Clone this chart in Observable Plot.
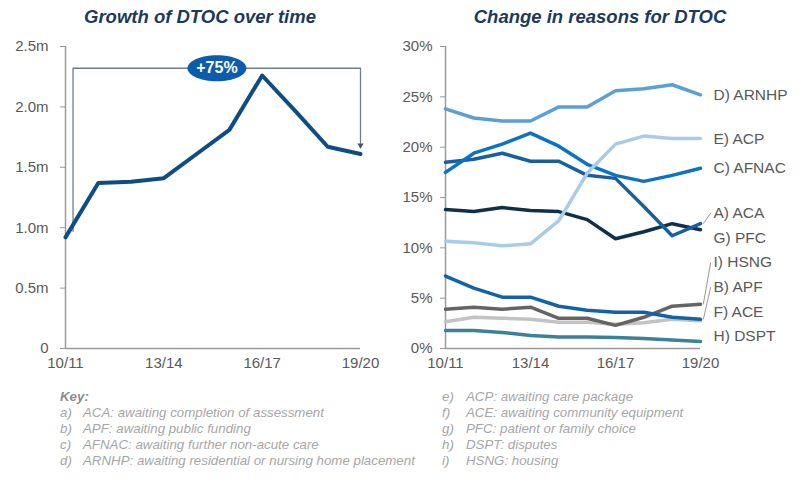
<!DOCTYPE html>
<html><head><meta charset="utf-8">
<script src="https://cdn.jsdelivr.net/npm/d3@7"></script>
<script src="https://cdn.jsdelivr.net/npm/@observablehq/plot@0.6"></script>
<style>
body{margin:0;background:#fff;font-family:"Liberation Sans",Arial,sans-serif;}
#wrap{position:relative;width:800px;height:482px;overflow:hidden;background:#fff;}
.title{position:absolute;top:6px;width:400px;text-align:center;font-weight:bold;font-style:italic;font-size:18.5px;color:#1b3a5c;white-space:nowrap;}
#left,#right{position:absolute;top:0;}
#left{left:0}#right{left:400px}
.key{position:absolute;top:389px;font-style:italic;font-size:13.3px;color:#a6a6a6;line-height:16px;white-space:nowrap;}
.key .l{display:inline-block;}
.key .h{font-weight:bold;color:#8c8c8c;}
</style></head>
<body><div id="wrap">
<div id="left"></div><div id="right"></div>
<div class="title" style="left:0">Growth of DTOC over time</div>
<div class="title" style="left:400px">Change in reasons for DTOC</div>
<div class="key" id="keyL" style="left:60px"></div>
<div class="key" id="keyR" style="left:442px"></div>
</div>
<script>
// ---- data ----
const years = ["10/11","11/12","12/13","13/14","14/15","15/16","16/17","17/18","18/19","19/20"];
const yearTicks = ["10/11","13/14","16/17","19/20"];
const totalDTOC = [0.92, 1.37, 1.38, 1.41, 1.61, 1.81, 2.26, 1.97, 1.67, 1.61]; // millions
const leftTicks = [0, 0.5, 1.0, 1.5, 2.0, 2.5];
const rightTicks = [0, 5, 10, 15, 20, 25, 30];

const ACA   = [18.5, 18.8, 19.4, 18.6, 18.6, 17.2, 16.9, 14.1, 11.2, 12.4];
const APF   = [7.2, 6.0, 5.1, 5.1, 4.2, 3.8, 3.6, 3.6, 3.1, 2.9];
const AFNAC = [17.5, 19.4, 20.3, 21.4, 20.1, 18.3, 17.2, 16.6, 17.2, 17.9];
const ARNHP = [23.8, 22.9, 22.6, 22.6, 24.0, 24.0, 25.6, 25.8, 26.2, 25.2];
const ACP   = [10.65, 10.5, 10.2, 10.4, 12.7, 17.4, 20.3, 21.1, 20.85, 20.85];
const ACE   = [2.65, 3.1, 3.0, 2.9, 2.6, 2.6, 2.4, 2.55, 2.9, 2.75];
const PFC   = [13.8, 13.6, 14.0, 13.7, 13.6, 12.8, 10.9, 11.6, 12.4, 11.8];
const DSPT  = [1.8, 1.8, 1.6, 1.3, 1.15, 1.15, 1.1, 1.0, 0.85, 0.7];
const HSNG  = [3.9, 4.1, 3.9, 4.1, 3.0, 3.0, 2.3, 3.1, 4.2, 4.4];

const seriesNames = ["H) DSPT","F) ACE","I) HSNG","B) APF","G) PFC","A) ACA","C) AFNAC","E) ACP","D) ARNHP"];
const seriesValues = [DSPT, ACE, HSNG, APF, PFC, ACA, AFNAC, ACP, ARNHP];
const seriesColors = ["#3b8199","#c3c3c3","#646464","#1262aa","#10304a","#17609f","#0b72c4","#a7cbe9","#5b9fd6"];

const keyLetters = ["a)","b)","c)","d)","e)","f)","g)","h)","i)"];
const keyTexts = [
  "ACA: awaiting completion of assessment",
  "APF: awaiting public funding",
  "AFNAC: awaiting further non-acute care",
  "ARNHP: awaiting residential or nursing home placement",
  "ACP: awaiting care package",
  "ACE: awaiting community equipment",
  "PFC: patient or family choice",
  "DSPT: disputes",
  "HSNG: housing"
];

// ---- shared style ----
const axisColor = "#9a9a9a";
const textColor = "#595959";
const font = "'Liberation Sans', Arial, sans-serif";
const last = years.length - 1;

// ---- left chart ----
const growth = Math.round((totalDTOC[last] / totalDTOC[0] - 1) * 100);
const bracketTop = 2.32;
const bracket = [
  {x: 0.23, y: 0.97}, {x: 0.23, y: bracketTop}, {x: last, y: bracketTop}, {x: last, y: 1.70}
];
const ellipseSymbol = {
  draw(ctx) {
    const rx = 29.5, ry = 13, k = 0.5523;
    ctx.moveTo(rx, 0);
    ctx.bezierCurveTo(rx, ry * k, rx * k, ry, 0, ry);
    ctx.bezierCurveTo(-rx * k, ry, -rx, ry * k, -rx, 0);
    ctx.bezierCurveTo(-rx, -ry * k, -rx * k, -ry, 0, -ry);
    ctx.bezierCurveTo(rx * k, -ry, rx, -ry * k, rx, 0);
    ctx.closePath();
  }
};

const leftPlot = Plot.plot({
  width: 400, height: 390,
  marginLeft: 65, marginRight: 40, marginTop: 46, marginBottom: 42,
  style: {fontFamily: font, fontSize: "15px", background: "transparent", overflow: "visible"},
  x: {domain: [0, last]},
  y: {domain: [0, 2.5]},
  marks: [
    Plot.axisY({ticks: leftTicks, tickFormat: d => d === 0 ? "0" : d.toFixed(1) + "m",
      tickSize: 5, tickPadding: 12, stroke: axisColor, fill: textColor, fontSize: 15, label: null}),
    Plot.axisX({ticks: yearTicks.map(t => years.indexOf(t)), tickFormat: i => years[i],
      tickSize: 0, tickPadding: 9, fill: textColor, fontSize: 15, label: null}),
    Plot.ruleX([0], {stroke: axisColor, strokeWidth: 1.5}),
    Plot.ruleY([0], {stroke: axisColor, strokeWidth: 1.5}),
    Plot.line(bracket, {x: "x", y: "y", stroke: "#6e7d8e", strokeWidth: 1.3}),
    Plot.line(totalDTOC, {x: (d, i) => i, y: d => d, stroke: "#0e4c84", strokeWidth: 4}),
    Plot.dot([{x: last, y: 1.683}], {x: "x", y: "y", symbol: "triangle2", rotate: 180, r: 3, fill: "#44546a", stroke: null}),
    Plot.dot([{x: 4.62, y: bracketTop}], {x: "x", y: "y", symbol: ellipseSymbol, fill: "#0b5cad", stroke: null}),
    Plot.text([{x: 4.62, y: bracketTop}], {x: "x", y: "y", text: () => "+" + growth + "%",
      fill: "white", fontWeight: "bold", fontSize: 16})
  ]
});
document.getElementById("left").appendChild(leftPlot);

// ---- right chart ----
const gap = 2.45, floor = 1.2;
const labels = seriesNames.map((name, i) => ({name, end: seriesValues[i][last]}))
  .sort((a, b) => b.end - a.end);
labels.forEach((l, i) => { l.pos = i === 0 ? l.end : Math.min(l.end, labels[i - 1].pos - gap); });
for (let i = labels.length - 1; i >= 0; i--) {
  labels[i].pos = i === labels.length - 1 ? Math.max(labels[i].pos, floor) : Math.max(labels[i].pos, labels[i + 1].pos + gap);
}
const leaders = labels.filter(l => Math.abs(l.pos - l.end) > 0.95);

const rightPlot = Plot.plot({
  width: 400, height: 390,
  marginLeft: 45, marginRight: 100, marginTop: 46, marginBottom: 42,
  style: {fontFamily: font, fontSize: "15px", background: "transparent", overflow: "visible"},
  x: {domain: [0, last]},
  y: {domain: [0, 30]},
  marks: [
    Plot.axisY({ticks: rightTicks, tickFormat: d => d + "%",
      tickSize: 5, tickPadding: 8, stroke: axisColor, fill: textColor, fontSize: 15, label: null}),
    Plot.axisX({ticks: yearTicks.map(t => years.indexOf(t)), tickFormat: i => years[i],
      tickSize: 0, tickPadding: 9, fill: textColor, fontSize: 15, label: null}),
    Plot.ruleX([0], {stroke: axisColor, strokeWidth: 1.5}),
    Plot.ruleY([0], {stroke: axisColor, strokeWidth: 1.5}),
    ...seriesValues.map((vals, k) => Plot.line(vals, {x: (d, i) => i, y: d => d,
      stroke: seriesColors[k], strokeWidth: 3.5})),
    Plot.link(leaders, {x1: () => last + 0.1, y1: "end", x2: () => last + 0.36, y2: "pos",
      stroke: "#8c8c8c", strokeWidth: 0.9}),
    Plot.text(labels, {x: () => last, y: "pos", text: "name", dx: 13, textAnchor: "start",
      fill: textColor, fontSize: 15.5})
  ]
});
document.getElementById("right").appendChild(rightPlot);

// ---- key ----
const keyL = document.getElementById("keyL");
const keyR = document.getElementById("keyR");
keyL.innerHTML = '<div class="h">Key:</div>' + keyLetters.slice(0, 4).map((l, i) =>
  `<div><span class="l" style="width:23px">${l}</span>${keyTexts[i]}</div>`).join("");
keyR.innerHTML = keyLetters.slice(4).map((l, i) =>
  `<div><span class="l" style="width:24px">${l}</span>${keyTexts[i + 4]}</div>`).join("");
</script>
</body></html>
